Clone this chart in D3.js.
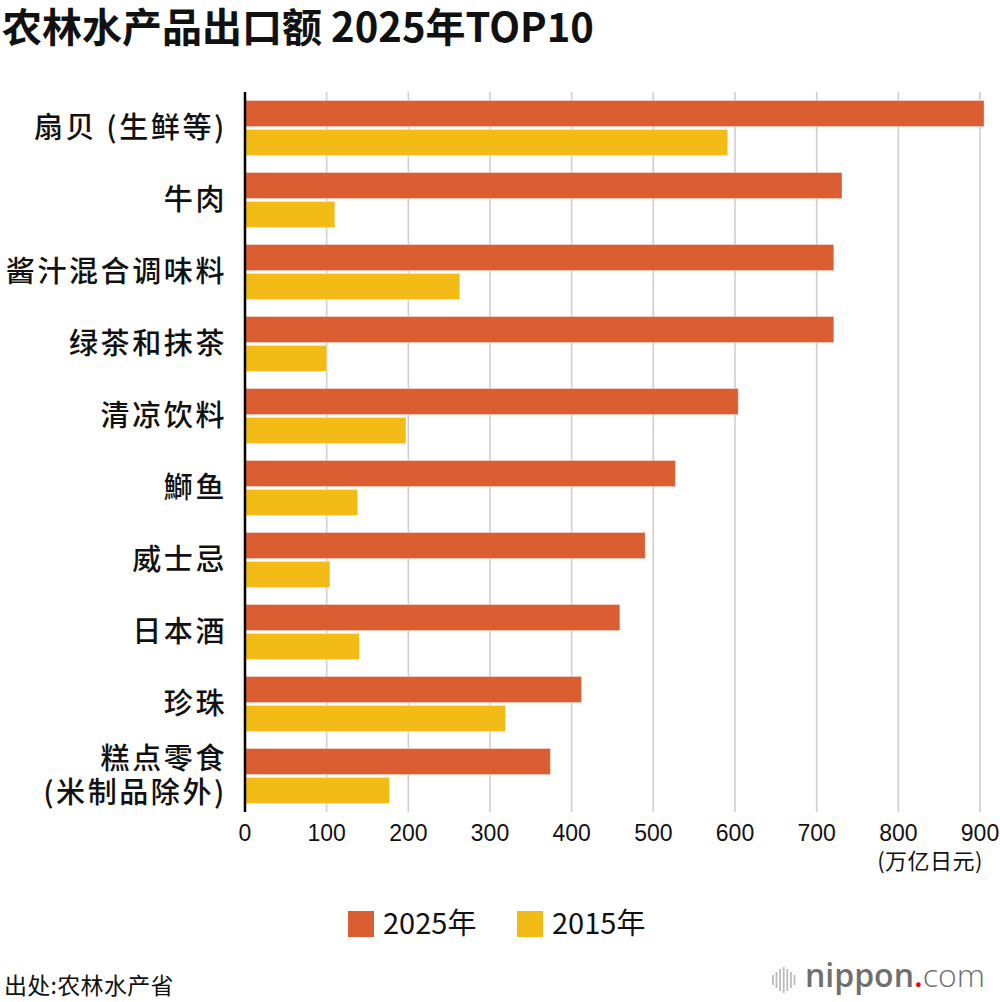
<!DOCTYPE html>
<html>
<head>
<meta charset="utf-8">
<script src="https://cdn.jsdelivr.net/npm/d3@7"></script>
<style>
  body { margin: 0; background: #fff; }
  svg { display: block; }
</style>
</head>
<body>
<div id="chart"></div>
<script>
// Chart data
const categories = ['扇贝 (生鲜等)', '牛肉', '酱汁混合调味料', '绿茶和抹茶', '清凉饮料', '鰤鱼', '威士忌', '日本酒', '珍珠', '糕点零食\n(米制品除外)'];
const series = ['2025年', '2015年'];
const values2025 = [905, 731, 721, 721, 604, 527, 490, 459, 412, 374];
const values2015 = [591, 110, 263, 100, 197, 138, 104, 140, 319, 177];
const xTicks = [0, 100, 200, 300, 400, 500, 600, 700, 800, 900];
const colors = ['#DA5E31', '#F2BB15'];
// bar heights of the little wave mark in the logo
const logoWave = [10, 16, 22, 26, 22, 16, 10];

const width = 1000, height = 1002;
const svg = d3.select('#chart').append('svg')
    .attr('width', width)
    .attr('height', height);

const cjk = '"Noto Sans CJK SC", "Noto Sans", sans-serif';

// Title
svg.append('text')
    .attr('x', 2)
    .attr('y', 42)
    .attr('font-family', cjk)
    .attr('font-weight', 700)
    .attr('font-size', 40)
    .attr('fill', '#111')
    .text('农林水产品出口额 2025年TOP10');

// Scales
const plotTop = 92, plotBottom = 812;
const x = d3.scaleLinear().domain([0, 900]).range([245, 980]);
const y = d3.scaleBand().domain(categories).range([plotTop, plotBottom])
    .paddingInner(0.236).paddingOuter(0.118);
const ySub = d3.scaleBand().domain(series).range([0, y.bandwidth()]).paddingInner(0.1);

// Grid lines
svg.append('g').selectAll('line')
    .data(xTicks.filter(d => d > 0))
    .enter().append('line')
    .attr('x1', d => x(d)).attr('x2', d => x(d))
    .attr('y1', plotTop).attr('y2', plotBottom)
    .attr('stroke', '#cfcfcf')
    .attr('stroke-width', 1.6);

// Bars
const rows = categories.map((c, i) => ({ cat: c, vals: [values2025[i], values2015[i]] }));
const groups = svg.append('g').selectAll('g')
    .data(rows)
    .enter().append('g')
    .attr('transform', d => `translate(0,${y(d.cat)})`);

groups.selectAll('rect')
    .data(d => d.vals.map((v, j) => ({ s: series[j], v: v, j: j })))
    .enter().append('rect')
    .attr('x', x(0))
    .attr('y', d => ySub(d.s))
    .attr('width', d => x(d.v) - x(0))
    .attr('height', ySub.bandwidth())
    .attr('fill', d => colors[d.j])
    .attr('stroke', '#fff')
    .attr('stroke-opacity', 0.35)
    .attr('stroke-width', 1);

// Zero axis line
svg.append('line')
    .attr('x1', x(0)).attr('x2', x(0))
    .attr('y1', plotTop).attr('y2', plotBottom)
    .attr('stroke', '#000')
    .attr('stroke-width', 2.5);

// Category labels
const labelX = 227;
groups.each(function (d) {
    const lines = d.cat.split('\n');
    const cy = y.bandwidth() / 2;
    const lh = 34;
    const t = d3.select(this).append('text')
        .attr('text-anchor', 'end')
        .attr('font-family', cjk)
        .attr('font-weight', 500)
        .attr('font-size', 29)
        .attr('letter-spacing', 2.6)
        .attr('fill', '#111');
    lines.forEach((ln, k) => {
        t.append('tspan')
            .attr('x', labelX)
            .attr('y', cy + (k - (lines.length - 1) / 2) * lh)
            .attr('dy', '0.36em')
            .text(ln);
    });
});

// X axis tick labels
svg.append('g').selectAll('text')
    .data(xTicks)
    .enter().append('text')
    .attr('x', d => x(d))
    .attr('y', 841)
    .attr('text-anchor', 'middle')
    .attr('font-family', '"Liberation Sans", Arial, sans-serif')
    .attr('font-size', 23)
    .attr('fill', '#111')
    .text(d => d);

svg.append('text')
    .attr('x', 983)
    .attr('y', 869)
    .attr('text-anchor', 'end')
    .attr('font-family', cjk)
    .attr('font-size', 22)
    .attr('letter-spacing', 0.5)
    .attr('fill', '#111')
    .text('(万亿日元)');

// Legend
const legendX = [348, 517];
const legend = svg.append('g').selectAll('g')
    .data(series)
    .enter().append('g')
    .attr('transform', (d, i) => `translate(${legendX[i]},911)`);
legend.append('rect')
    .attr('width', 26).attr('height', 26)
    .attr('fill', (d, i) => colors[i]);
legend.append('text')
    .attr('x', 35)
    .attr('y', 13)
    .attr('dy', '0.36em')
    .attr('font-family', cjk)
    .attr('font-size', 29)
    .attr('fill', '#111')
    .text(d => d);

// Source
svg.append('text')
    .attr('x', 4)
    .attr('y', 994)
    .attr('font-family', cjk)
    .attr('font-size', 23)
    .attr('letter-spacing', 0.3)
    .attr('fill', '#111')
    .text('出处:农林水产省');

// Logo
const logo = svg.append('g').attr('transform', 'translate(772,980)');
logo.selectAll('rect')
    .data(logoWave)
    .enter().append('rect')
    .attr('x', (d, i) => i * 3.6)
    .attr('y', d => -d / 2)
    .attr('width', 1.8)
    .attr('height', d => d)
    .attr('fill', '#bbb');

const logoText = svg.append('text')
    .attr('x', 805)
    .attr('y', 987)
    .attr('font-family', '"Open Sans", sans-serif')
    .attr('font-size', 32)
    .attr('fill', '#6f6f6f');
logoText.append('tspan').attr('font-weight', 600).text('nippon');
logoText.append('tspan').attr('font-weight', 600).attr('fill', '#e60012').text('.');
logoText.append('tspan').attr('font-weight', 300).text('com');
</script>
</body>
</html>
